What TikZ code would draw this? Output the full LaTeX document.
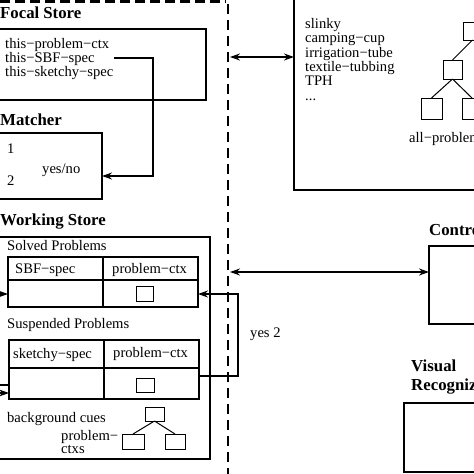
\documentclass[tikz,border=0pt]{standalone}
\usepackage{fontspec}
\setmainfont{Liberation Serif}
\usetikzlibrary{arrows.meta}
\begin{document}
\begin{tikzpicture}[x=1pt,y=-1pt,
  box/.style={draw, line width=2pt, anchor=north west, inner sep=0pt, outer sep=0pt},
  cell/.style={draw, line width=1.2pt, anchor=north west, inner sep=0pt, outer sep=0pt},
  sq/.style={draw, line width=1pt, anchor=north west, inner sep=0pt, outer sep=0pt},
  txt/.style={anchor=base west, inner sep=0pt, font=\fontsize{14.6}{14.6}\selectfont},
  lbl/.style={anchor=base west, inner sep=0pt, font=\fontsize{16.8}{16.8}\selectfont\bfseries},
  conn/.style={line width=1.2pt},
  arr/.style={-{Stealth[length=10pt,width=7pt]}},
  darr/.style={{Stealth[length=10pt,width=7pt]}-{Stealth[length=10pt,width=7pt]}},
  bigdash/.style={line width=3pt, dash pattern=on 10pt off 5pt},
  smalldash/.style={line width=1.2pt, dash pattern=on 10pt off 6pt},
]
\useasboundingbox (0,0) rectangle (474,474);
\clip (0,0) rectangle (474,474);
\fill[white] (0,0) rectangle (474,474);

% dashed boundary
\coordinate (dtl) at (0,1.5);
\coordinate (dtr) at (226,1.5);
\coordinate (dvt) at (228,4);
\coordinate (dvb) at (228,480);
\draw[bigdash] (dtl) -- (dtr);
\draw[smalldash] (dvt) -- (dvb);

% Focal store
\node[lbl] (focallbl) at (0,18) {Focal\hspace{4pt}Store};
\node[box, minimum width=211pt, minimum height=71pt] (focal) at (-5,29) {};
\node[txt] (fc1) at (5,48) {this−problem−ctx};
\node[txt] (fc2) at (5,62.3) {this−SBF−spec};
\node[txt] (fc3) at (5,76.6) {this−sketchy−spec};

% Matcher
\node[lbl] (matchlbl) at (0,125) {Matcher};
\node[box, minimum width=107pt, minimum height=66pt] (matcher) at (-5,133) {};
\node[txt] (m1) at (7,153) {1};
\node[txt] (m2) at (7,185) {2};
\node[txt] (myn) at (42,173) {yes/no};
\coordinate (sbf) at (114,58);
\coordinate (sbfbend) at (153,58);
\coordinate (sbfbend2) at (153,176);
\coordinate (matchin) at (102,176);
\draw[conn,arr] (sbf) -- (sbfbend) -- (sbfbend2) -- (matchin);

% Working store
\node[lbl] (worklbl) at (0,225) {Working Store};
\node[box, minimum width=211pt, minimum height=222pt] (work) at (-1,237) {};
\node[txt] (solvedlbl) at (7,250) {Solved Problems};
\node[cell, minimum width=190pt, minimum height=50pt] (solved) at (8,257) {};
\coordinate (sml) at (8,280);
\coordinate (smr) at (198,280);
\coordinate (sdt) at (103,257);
\coordinate (sdb) at (103,307);
\draw[line width=1.2pt] (sml) -- (smr);
\draw[line width=1.2pt] (sdt) -- (sdb);
\node[txt] (s1) at (15,273) {SBF−spec};
\node[txt] (s2) at (112,273) {problem−ctx};
\node[sq, minimum width=17pt, minimum height=15pt] (ssq) at (136,286) {};

\node[txt] (susplbl) at (7,328) {Suspended Problems};
\node[cell, minimum width=190pt, minimum height=59pt] (susp) at (9,340) {};
\coordinate (uml) at (9,368);
\coordinate (umr) at (199,368);
\coordinate (udt) at (104,340);
\coordinate (udb) at (104,399);
\draw[line width=1.2pt] (uml) -- (umr);
\draw[line width=1.2pt] (udt) -- (udb);
\node[txt] (u1) at (13,358) {sketchy−spec};
\node[txt] (u2) at (113,357.5) {problem−ctx};
\node[sq, minimum width=18pt, minimum height=14pt] (usq) at (136,378) {};

\node[txt] (bglbl) at (7,422) {background cues};
\node[txt] (pc1) at (61,440) {problem−};
\node[txt] (pc2) at (61,453.5) {ctxs};
\node[sq, minimum width=19pt, minimum height=14pt] (bt) at (145,407) {};
\node[sq, minimum width=22pt, minimum height=15pt] (bl) at (122,434) {};
\node[sq, minimum width=20pt, minimum height=15pt] (br) at (165,434) {};
\draw[line width=1pt] (bt.south) -- (bl.north);
\draw[line width=1pt] (bt.south) -- (br.north);

% left edge arrows
\coordinate (la1) at (-20,294);
\coordinate (la1e) at (8,294);
\draw[conn,arr] (la1) -- (la1e);
\coordinate (la2) at (-20,385);
\coordinate (la2e) at (9,385);
\draw[conn] (la2) -- (la2e);
\coordinate (la3) at (-20,393);
\coordinate (la3e) at (9,393);
\draw[conn,arr] (la3) -- (la3e);

% yes 2 loop
\coordinate (lpa) at (199,376);
\coordinate (lpb) at (238,376);
\coordinate (lpc) at (238,294);
\coordinate (lpd) at (198,294);
\draw[conn,arr] (lpa) -- (lpb) -- (lpc) -- (lpd);
\node[txt] (yes2) at (250,337) {yes 2};

% Right top box
\node[box, minimum width=200pt, minimum height=191pt] (lib) at (294,-1) {};
\node[txt] (l1) at (305,28.5) {slinky};
\node[txt] (l2) at (305,42.8) {camping−cup};
\node[txt] (l3) at (305,57.1) {irrigation−tube};
\node[txt] (l4) at (305,71.4) {textile−tubbing};
\node[txt] (l5) at (305,85.7) {TPH};
\node[txt] (l6) at (305,100) {...};
\node[sq, minimum width=19pt, minimum height=18pt] (rt) at (463,22) {};
\node[sq, minimum width=19pt, minimum height=19pt] (rm) at (443,60) {};
\node[sq, minimum width=21pt, minimum height=21pt] (rl) at (421,98) {};
\node[sq, minimum width=20pt, minimum height=21pt] (rr) at (462,98) {};
\draw[line width=1pt] (rt.south) -- (rm.north);
\draw[line width=1pt] (rm.south) -- (rl.north);
\draw[line width=1pt] (rm.south) -- (rr.north);
\node[txt] (allp) at (409,142) {all−problems};
\coordinate (da1) at (230,57);
\draw[conn,darr] (da1) -- (lib.west |- da1);

% Control
\node[lbl] (ctrllbl) at (429,235) {Control};
\node[box, minimum width=70pt, minimum height=78pt] (ctrl) at (429,246) {};
\coordinate (da2) at (230,272);
\draw[conn,darr] (da2) -- (ctrl.west |- da2);

% Visual recognizer
\node[lbl] (vislbl1) at (411,371) {Visual};
\node[lbl] (vislbl2) at (411,390) {Recognizer};
\node[box, minimum width=90pt, minimum height=69pt] (vis) at (404,403) {};
\end{tikzpicture}
\end{document}
